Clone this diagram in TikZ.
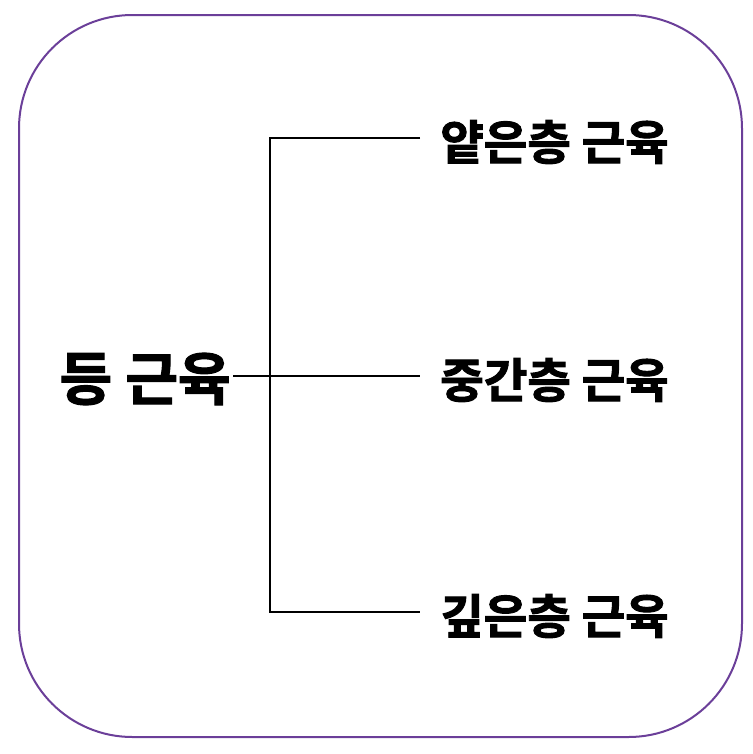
\documentclass[tikz,border=0pt]{standalone}
\usepackage{fontspec}
\newfontfamily\kr{Noto Sans CJK KR}[BoldFont={Noto Sans CJK KR Bold},BoldFeatures={FakeBold=2}]
\definecolor{frame}{HTML}{6B3F99}
\begin{document}
\begin{tikzpicture}[x=0.75pt,y=-0.75pt,
  leaf/.style={anchor=west,inner sep=0pt,font=\kr\bfseries\fontsize{35.5}{40}\selectfont},
  rootn/.style={anchor=east,inner sep=0pt,font=\kr\bfseries\fontsize{43}{48}\selectfont},
  conn/.style={line width=1.5pt,black}]
\useasboundingbox (0,0) rectangle (753,754);
\draw[frame,line width=1.5pt,rounded corners=85pt] (19,15) rectangle (742,737);
\node[rootn] (root) at (231,379) {등 근육};
\node[leaf] (a) at (440,142) {얕은층 근육};
\node[leaf] (b) at (440,380) {중간층 근육};
\node[leaf] (c) at (440,616) {깊은층 근육};
\coordinate (ja) at (270,138);
\coordinate (jc) at (270,612);
\coordinate (ea) at (420,138);
\coordinate (eb) at (420,376);
\coordinate (ec) at (420,612);
\draw[conn] (root.east |- eb) ++(2,0) -- (eb);
\draw[conn] (ea) -- (ja) -- (jc) -- (ec);
\end{tikzpicture}
\end{document}
